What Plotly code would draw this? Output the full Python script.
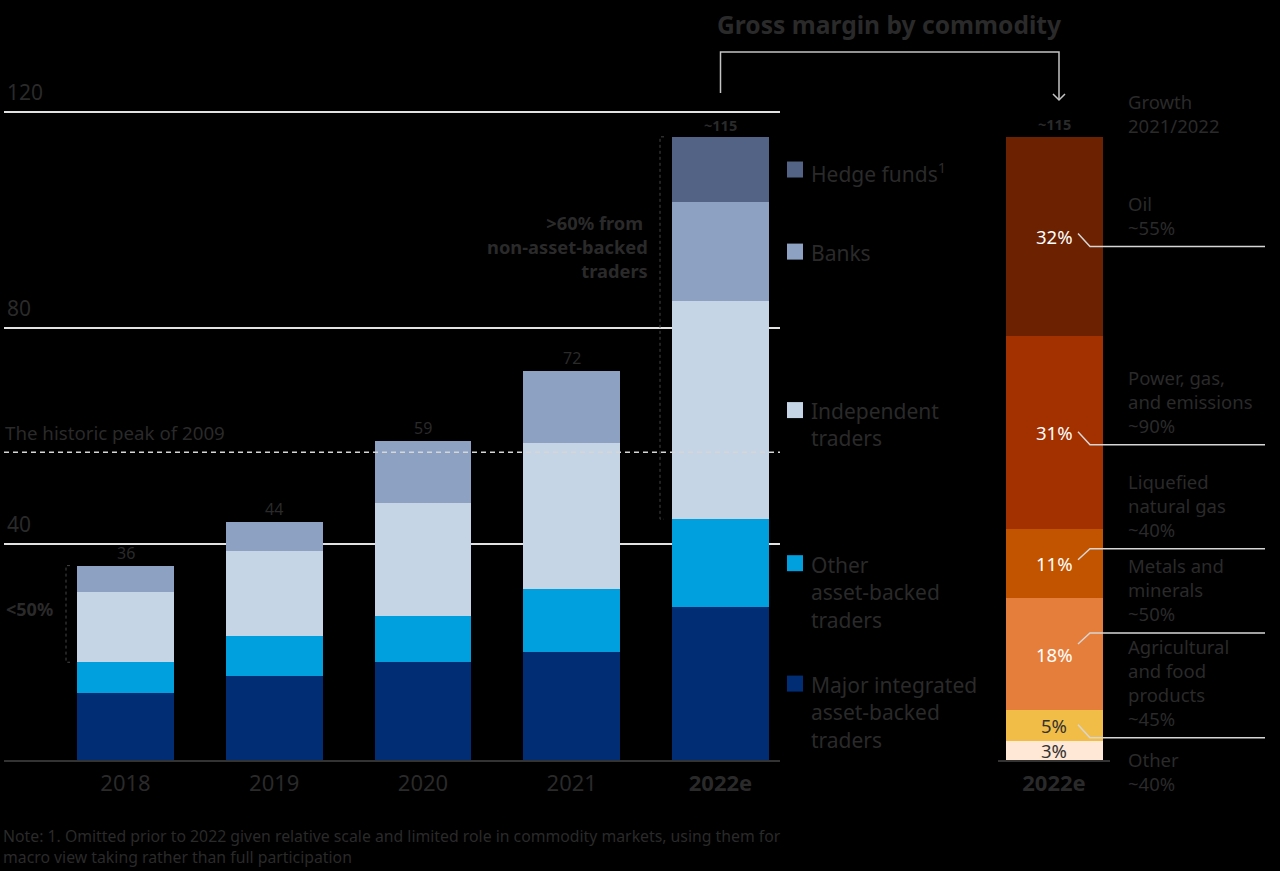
import plotly.graph_objects as go

# ---------------- data ----------------
years = ["2018", "2019", "2020", "2021", "2022e"]
year_ticktext = ["2018", "2019", "2020", "2021", "<b>2022e</b>"]
major = [12.4, 15.5, 18.1, 20.0, 28.3]
other_ab = [5.7, 7.5, 8.6, 11.7, 16.3]
indep = [13.1, 15.7, 20.9, 27.0, 40.4]
banks = [4.8, 5.3, 11.4, 13.3, 18.3]
hedge = [None, None, None, None, 12.1]
total_labels = ["36", "44", "59", "72", "<b>~115</b>"]
peak_2009 = 57
y_ticks = [40, 80, 120]
y_ticktext = ["40", "80", "120"]

series_values = [major, other_ab, indep, banks, hedge]
series_names = ["Major integrated asset-backed traders", "Other asset-backed traders",
                "Independent traders", "Banks", "Hedge funds"]
series_legend = ["Major integrated<br>asset-backed<br>traders",
                 "Other<br>asset-backed<br>traders",
                 "Independent<br>traders",
                 "Banks",
                 "Hedge funds<sup>1</sup>"]
series_colors = ["#002D74", "#00A0DF", "#C5D5E6", "#8DA2C2", "#536385"]

# right bar, top to bottom
commodity_labels = ["Oil<br>~55%",
                    "Power, gas,<br>and emissions<br>~90%",
                    "Liquefied<br>natural gas<br>~40%",
                    "Metals and<br>minerals<br>~50%",
                    "Agricultural<br>and food<br>products<br>~45%",
                    "Other<br>~40%"]
commodity_names = ["Oil", "Power, gas, and emissions", "Liquefied natural gas",
                   "Metals and minerals", "Agricultural and food products", "Other"]
shares = [32, 31, 11, 18, 5, 3]
share_labels = ["32%", "31%", "11%", "18%", "5%", "3%"]
commodity_colors = ["#6C2100", "#A33100", "#C25400", "#E67E3B", "#F2BD47", "#FFE8D5"]
share_text_colors = ["#ffffff", "#ffffff", "#ffffff", "#ffffff", "#333333", "#333333"]

# ---------------- style / geometry ----------------
W, H = 1280, 871
M_T, M_B = 58, 111
YMAX = 130
PLOT_H = H - M_T - M_B
PXU = PLOT_H / YMAX          # pixels per unit
BASE = H - M_B               # pixel row of value 0
TXT = "#2a2a2a"
LIGHT = "#d6d6d6"
FONT = "Noto Sans"


def pxx(x):
    return x / W


def pyy(y):
    return (BASE - y) / PLOT_H


fig = go.Figure()

for name, vals, col in zip(series_names, series_values, series_colors):
    fig.add_trace(go.Bar(x=years, y=vals, name=name, marker_color=col,
                         marker_line_width=0, width=0.652, showlegend=False,
                         xaxis="x", yaxis="y"))

total_2022 = sum(v[-1] for v in series_values if v[-1] is not None)
seg_vals = [s / 100 * total_2022 for s in shares]
for i in reversed(range(len(shares))):
    fig.add_trace(go.Bar(x=["2022e"], y=[seg_vals[i]], name=commodity_names[i],
                         marker_color=commodity_colors[i], marker_line_width=0,
                         width=0.866, showlegend=False, xaxis="x2", yaxis="y2"))

annotations = []
shapes = []

# totals above bars
totals = []
for k in range(len(years)):
    t = sum(v[k] for v in series_values if v[k] is not None)
    totals.append(t)
    bold = k == len(years) - 1
    annotations.append(dict(x=k, y=t, xref="x", yref="y", text=total_labels[k],
                            showarrow=False, yanchor="bottom", yshift=0,
                            font=dict(size=14.5 if bold else 16, color=TXT, family=FONT)))

# legend aligned on 2022 segments
bottom = 0
LEG_FS = 21
for label, vals, col in zip(series_legend, series_values, series_colors):
    v = vals[-1]
    mid = bottom + v / 2
    bottom += v
    shapes.append(dict(type="rect", xref="paper", yref="y", x0=pxx(787), x1=pxx(803),
                       ysizemode="pixel", yanchor=mid, y0=-8, y1=8,
                       fillcolor=col, line=dict(width=0)))
    annotations.append(dict(x=pxx(809), y=mid, xref="paper", yref="y", text=label,
                            showarrow=False, xanchor="left", yanchor="top", align="left",
                            yshift=LEG_FS * 1.3 / 2 + 1,
                            font=dict(size=LEG_FS, color=TXT, family=FONT)))

# historic peak line
shapes.append(dict(type="line", xref="x domain", yref="y", x0=0, x1=1, y0=peak_2009, y1=peak_2009,
                   line=dict(color=LIGHT, width=1.5, dash="5px,4px")))
annotations.append(dict(x=pxx(3), y=peak_2009, xref="paper", yref="y", text="The historic peak of 2009",
                        showarrow=False, xanchor="left", yanchor="bottom", yshift=5,
                        font=dict(size=18.7, color=TXT, family=FONT)))

# <50% bracket on 2018
b_top = totals[0]
b_bot = major[0] + other_ab[0]
shapes.append(dict(type="path", xref="paper", yref="y",
                   path=f"M {pxx(70)},{b_top} L {pxx(66)},{b_top} L {pxx(66)},{b_bot} L {pxx(70)},{b_bot}",
                   line=dict(color="#444444", width=1, dash="3px,3px")))
annotations.append(dict(x=pxx(4), y=(b_top + b_bot) / 2, xref="paper", yref="y", text="<b>&lt;50%</b>",
                        showarrow=False, xanchor="left", yanchor="middle", yshift=5,
                        font=dict(size=18, color=TXT, family=FONT)))

# >60% bracket on 2022
c_top = totals[-1]
c_bot = major[-1] + other_ab[-1]
shapes.append(dict(type="path", xref="paper", yref="y",
                   path=f"M {pxx(664)},{c_top} L {pxx(660)},{c_top} L {pxx(660)},{c_bot} L {pxx(664)},{c_bot}",
                   line=dict(color="#444444", width=1, dash="3px,3px")))
annotations.append(dict(x=pxx(650), y=pyy(246), xref="paper", yref="paper",
                        text="<b>&gt;60% from </b><br><b>non-asset-backed</b><br><b>traders</b>",
                        showarrow=False, xanchor="right", yanchor="middle", align="right",
                        font=dict(size=18.3, color=TXT, family=FONT)))

# header + connector arrow
annotations.append(dict(x=pxx(889.5), y=pyy(25), xref="paper", yref="paper",
                        text="<b>Gross margin by commodity</b>", showarrow=False,
                        xanchor="center", yanchor="middle",
                        font=dict(size=24.6, color=TXT, family=FONT)))
shapes.append(dict(type="path", xref="paper", yref="paper",
                   path=f"M {pxx(720.5)},{pyy(93)} L {pxx(720.5)},{pyy(52)} L {pxx(1059)},{pyy(52)} L {pxx(1059)},{pyy(100)}",
                   line=dict(color="#c4c4c4", width=1.5)))
shapes.append(dict(type="path", xref="paper", yref="paper",
                   path=f"M {pxx(1053)},{pyy(94)} L {pxx(1059)},{pyy(100)} L {pxx(1065)},{pyy(94)}",
                   line=dict(color="#c4c4c4", width=1.5)))

# right bar labels
annotations.append(dict(x=0, y=total_2022, xref="x2", yref="y2", text="<b>~115</b>",
                        showarrow=False, yanchor="bottom", yshift=1,
                        font=dict(size=14.5, color=TXT, family=FONT)))
CAT_FS = 18.5
annotations.append(dict(x=pxx(1126), y=pyy(113.5), xref="paper", yref="paper",
                        text="Growth<br>2021/2022", showarrow=False, xanchor="left",
                        yanchor="middle", align="left",
                        font=dict(size=CAT_FS, color=TXT, family=FONT)))

start_off = [-3, -1, -4, -10, -1]   # leader start, px below segment middle
line_off = [10, 12, -15, -21, 12]   # leader horizontal, px below segment middle
top = total_2022
mids = []
for v in seg_vals:
    mids.append(top - v / 2)
    top -= v
for i in range(len(shares)):
    annotations.append(dict(x=0, y=mids[i], xref="x2", yref="y2", text=share_labels[i],
                            showarrow=False, yanchor="middle",
                            font=dict(size=18.5, color=share_text_colors[i], family=FONT)))
for i in range(5):
    m = mids[i]
    ys = m - start_off[i] / PXU
    yl = m - line_off[i] / PXU
    shapes.append(dict(type="path", xref="paper", yref="y",
                       path=f"M {pxx(1078)},{ys} L {pxx(1090)},{yl} L {pxx(1265)},{yl}",
                       line=dict(color=LIGHT, width=1.5)))
    annotations.append(dict(x=pxx(1126), y=yl, xref="paper", yref="y", text=commodity_labels[i],
                            showarrow=False, xanchor="left", yanchor="bottom", align="left",
                            yshift=5, font=dict(size=CAT_FS, color=TXT, family=FONT)))
yl_last = mids[4] - line_off[4] / PXU
annotations.append(dict(x=pxx(1126), y=yl_last, xref="paper", yref="y", text=commodity_labels[5],
                        showarrow=False, xanchor="left", yanchor="top", align="left",
                        yshift=-7, font=dict(size=CAT_FS, color=TXT, family=FONT)))

# note
annotations.append(dict(x=pxx(1), y=pyy(823), xref="paper", yref="paper",
                        text="Note: 1. Omitted prior to 2022 given relative scale and limited role in commodity markets, using them for<br>macro view taking rather than full participation",
                        showarrow=False, xanchor="left", yanchor="top", align="left",
                        font=dict(size=15.8, color=TXT, family=FONT)))

fig.update_layout(
    width=W, height=H,
    margin=dict(l=0, r=0, t=M_T, b=M_B, pad=0),
    paper_bgcolor="#000000", plot_bgcolor="#000000",
    barmode="stack",
    font=dict(family=FONT, color=TXT),
    xaxis=dict(domain=[4 / W, 780 / W], type="category", range=[-0.8168, 4.400],
               tickvals=years, ticktext=year_ticktext, tickfont=dict(size=22, color=TXT),
               showline=True, linecolor="#333333", linewidth=1.5, ticks="",
               ticklabelstandoff=3, showgrid=False, zeroline=False, fixedrange=True),
    yaxis=dict(domain=[0, 1], range=[0, YMAX], anchor="x", tickvals=y_ticks, ticktext=y_ticktext,
               ticklabelposition="inside top", ticklabelshift=-5, tickfont=dict(size=21, color=TXT),
               showgrid=True, gridcolor="#e2e2e2", gridwidth=1.5, zeroline=False,
               showline=False, ticks=""),
    xaxis2=dict(domain=[998 / W, 1110 / W], type="category", range=[-0.5, 0.5], anchor="y2",
                tickvals=["2022e"], ticktext=["<b>2022e</b>"], tickfont=dict(size=22, color=TXT),
                showline=True, linecolor="#333333", linewidth=1.5, ticks="",
                ticklabelstandoff=3, showgrid=False, zeroline=False),
    yaxis2=dict(domain=[0, 1], range=[0, YMAX], anchor="x2", visible=False),
    annotations=annotations,
    shapes=shapes,
)

fig.write_html("out.html", config={"displayModeBar": False},
               post_script="document.body.style.margin='0px';document.body.style.background='#000';")
